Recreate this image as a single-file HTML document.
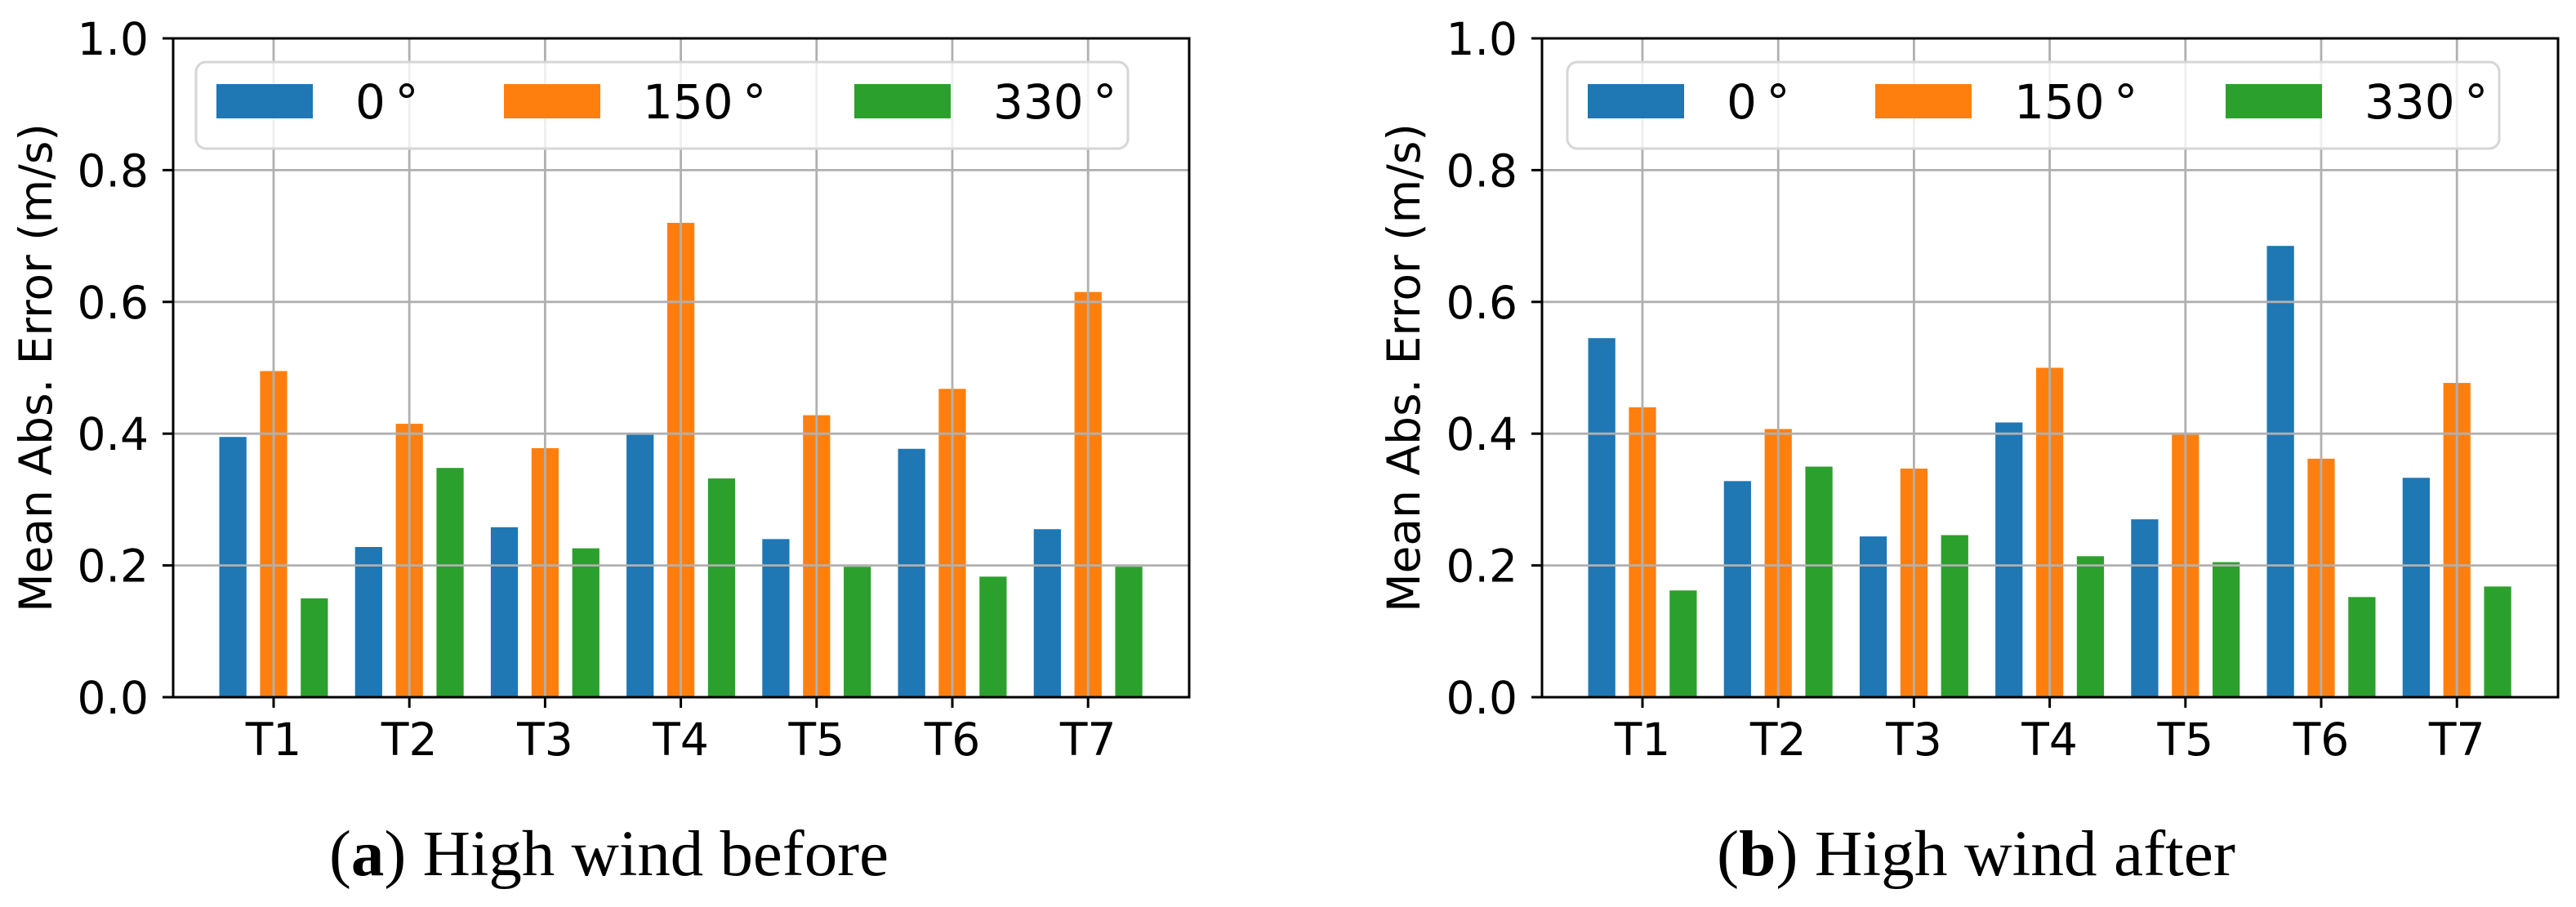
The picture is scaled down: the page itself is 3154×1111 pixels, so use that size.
<!DOCTYPE html>
<html><head><meta charset="utf-8"><style>
html,body{margin:0;padding:0;background:#fff;}
svg{display:block;}
</style></head><body>
<svg id="fig" xmlns="http://www.w3.org/2000/svg" width="3154" height="1111" viewBox="0 0 3154 1111"></svg>
<script>
const categories = ["T1","T2","T3","T4","T5","T6","T7"];
const seriesNames = ["0\u00b0","150\u00b0","330\u00b0"];
const beforeDeg0   = [0.395,0.228,0.258,0.400,0.240,0.377,0.255];
const beforeDeg150 = [0.495,0.415,0.378,0.720,0.428,0.468,0.615];
const beforeDeg330 = [0.150,0.348,0.226,0.332,0.198,0.183,0.198];
const afterDeg0    = [0.545,0.328,0.244,0.417,0.270,0.685,0.333];
const afterDeg150  = [0.440,0.407,0.347,0.500,0.400,0.362,0.477];
const afterDeg330  = [0.162,0.350,0.246,0.214,0.205,0.152,0.168];
const yTicks = [0.0,0.2,0.4,0.6,0.8,1.0];
const yTickLabels = ["0.0","0.2","0.4","0.6","0.8","1.0"];

const colors = ["#1f77b4","#ff7f0e","#2ca02c"];
const NS = "http://www.w3.org/2000/svg";
const svg = document.getElementById("fig");
function mk(tag, attrs, parent){ const e=document.createElementNS(NS,tag); for(const k in attrs) e.setAttribute(k,attrs[k]); (parent||svg).appendChild(e); return e; }

function drawChart(ox, panelName, series, captionLetter, captionText, capX, capW){
  const g = mk("g",{});
  
  
  const left = 212+ox, right = 1456+ox, top = 47, bottom = 854;
  const x0 = 335+ox, step = 166.2;
  const xPos = i => x0 + i*step;
  const yPos = v => bottom - (v/1.0)*(bottom-top);
  const barW = 0.2*step, offs = [-0.3,0,0.3];
  // bars
  series.forEach((arr,s)=>{
    arr.forEach((v,i)=>{
      const cx = xPos(i)+offs[s]*step;
      const r = mk("rect",{x:cx-barW/2,y:yPos(v),width:barW,height:bottom-yPos(v),fill:colors[s]},g);
      
      
    });
  });
  // grid
  yTicks.forEach(t=>{ if(t>0 && t<1){ const l=mk("line",{x1:left,x2:right,y1:yPos(t),y2:yPos(t),stroke:"#b0b0b0","stroke-width":2.8},g);
      }});
  categories.forEach((c,i)=>{ const l=mk("line",{x1:xPos(i),x2:xPos(i),y1:top,y2:bottom,stroke:"#b0b0b0","stroke-width":2.8},g);
      });
  // legend
  const lg = mk("g",{},g);
  
  
  const lx = 240+ox - (ox? -3:0);
  mk("rect",{x:lx,y:76,width:1141,height:106,rx:12,fill:"#fff","fill-opacity":0.8,stroke:"#d6d6d6","stroke-width":3},lg);
  const patchOff=[25,377,806];
  seriesNames.forEach((n,s)=>{
    const e = mk("g",{},lg);
    
    
    mk("rect",{x:lx+patchOff[s],y:103,width:118,height:42,fill:colors[s]},e);
    const t = mk("text",{x:lx+patchOff[s]+170,y:145,"font-family":"DejaVu Sans, Liberation Sans, sans-serif","font-size":58,fill:"#000"},e);
    t.textContent = n.replace("\u00b0","\u2009\u00b0");
  });
  // spines
  const sp = mk("rect",{x:left,y:top,width:right-left,height:bottom-top,fill:"none",stroke:"#000","stroke-width":3},g);
   
  // y ticks
  yTicks.forEach((t,k)=>{
    mk("line",{x1:left-13,x2:left,y1:yPos(t),y2:yPos(t),stroke:"#000","stroke-width":3},g);
    const tx = mk("text",{x:left-30,y:yPos(t)+20,"text-anchor":"end","font-family":"DejaVu Sans, Liberation Sans, sans-serif","font-size":55,fill:"#000"},g);
    tx.textContent = yTickLabels[k];
     
  });
  // x ticks
  categories.forEach((c,i)=>{
    mk("line",{x1:xPos(i),x2:xPos(i),y1:bottom,y2:bottom+13,stroke:"#000","stroke-width":3},g);
    const tx = mk("text",{x:xPos(i),y:925,"text-anchor":"middle","font-family":"DejaVu Sans, Liberation Sans, sans-serif","font-size":55,fill:"#000"},g);
    tx.textContent = c;
     
  });
  // y title
  const yl = 45+ox+(ox?-2:0)+ (ox?0:0);
  const yt = mk("text",{x:0,y:0,transform:`translate(${ox? 1738 : 63},${(top+bottom)/2}) rotate(-90)`,"text-anchor":"middle","font-family":"DejaVu Sans, Liberation Sans, sans-serif","font-size":55,fill:"#000"},g);
  yt.textContent = "Mean Abs. Error (m/s)";
   
  // caption
  const cap = mk("text",{x:capX,y:1072,"font-family":"Liberation Serif, serif","font-size":79,fill:"#000",textLength:capW,lengthAdjust:"spacingAndGlyphs"},g);
   
  const b = document.createElementNS(NS,"tspan");
  cap.appendChild(document.createTextNode("("));
  b.setAttribute("font-weight","bold"); b.textContent = captionLetter; cap.appendChild(b);
  cap.appendChild(document.createTextNode(") "+captionText));
}
drawChart(0,"chart-before",[beforeDeg0,beforeDeg150,beforeDeg330],"a","High wind before",403,685);
drawChart(1676,"chart-after",[afterDeg0,afterDeg150,afterDeg330],"b","High wind after",2102,635);
</script>
</body></html>
